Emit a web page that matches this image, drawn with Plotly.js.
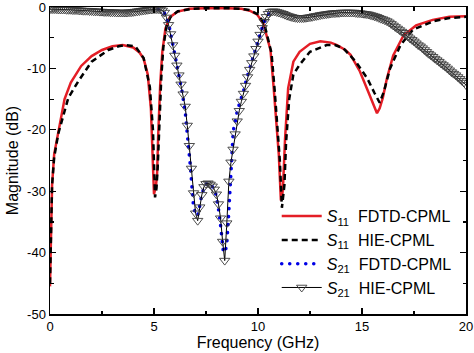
<!DOCTYPE html>
<html>
<head>
<meta charset="utf-8">
<script src="https://cdn.plot.ly/plotly-3.0.1.min.js"></script>
<style>
html,body{margin:0;padding:0;background:#fff;}
path.js-line[style*="rgb(0, 0, 230)"]{stroke-linecap:round !important;}
</style>
</head>
<body>
<div id="chart" style="width:474px;height:353px;"></div>
<script>
// ---- data ----
const xTicks = [0, 5, 10, 15, 20];
const xTickText = ['0', '5', '10', '15', '20'];
const yTicks = [0, -10, -20, -30, -40, -50];
const yTickText = ['0', '-10', '-20', '-30', '-40', '-50'];

const seriesNames = [
  '<i>S</i><sub>11</sub>\u00a0\u00a0FDTD-CPML',
  '<i>S</i><sub>11</sub>\u00a0\u00a0HIE-CPML',
  '<i>S</i><sub>21</sub>\u00a0\u00a0FDTD-CPML',
  '<i>S</i><sub>21</sub>\u00a0\u00a0HIE-CPML'
];

// S11 FDTD-CPML
const s11FdtdFreq = [0,0.05,0.1,0.2,0.4,0.7,1.0,1.5,2.0,2.5,3.0,3.5,4.0,4.3,4.5,4.7,4.85,4.95,5.0,5.1,5.15,5.2,5.3,5.4,5.55,5.75,6.1,6.7,7.5,8.5,9.2,9.6,9.95,10.25,10.45,10.6,10.75,10.9,11.0,11.1,11.15,11.2,11.3,11.45,11.7,12.0,12.5,13.0,13.5,13.8,14.2,14.45,14.9,15.3,15.6,15.72,15.85,16.0,16.2,16.5,17.0,17.6,18.4,19.2,20.0];
const s11FdtdDb = [-45.5,-36,-29,-24,-20.2,-15,-12.3,-9.6,-8.0,-7.0,-6.4,-6.2,-6.6,-7.4,-8.4,-11,-16.5,-25,-30.5,-29,-27,-21,-12.5,-7.3,-3.5,-1.7,-0.8,-0.3,-0.2,-0.2,-0.3,-0.6,-1.2,-2.6,-5.1,-7,-13,-19,-24,-31.5,-31,-29.5,-21.5,-13.2,-8.9,-7.3,-6.0,-5.6,-5.8,-6.2,-7.0,-7.8,-10.5,-13.8,-16.5,-17.3,-16.5,-14.8,-11.6,-7.9,-4.6,-3.0,-2.1,-1.6,-1.5];

// S11 HIE-CPML
const s11HieFreq = [0,0.05,0.1,0.2,0.4,0.88,1.36,2.0,2.8,3.3,3.6,4.1,4.5,4.8,4.95,5.05,5.12,5.18,5.25,5.35,5.45,5.6,5.8,6.15,6.8,7.5,8.5,9.2,9.6,10.0,10.3,10.5,10.65,10.8,10.95,11.05,11.15,11.2,11.27,11.35,11.5,11.7,12.0,12.5,13.3,13.7,14.1,14.7,15.25,15.6,15.85,16.05,16.35,16.85,17.45,18.45,19.2,20.0];
const s11HieDb = [-45,-36,-29,-24.5,-20.6,-14.8,-12.1,-8.9,-7.0,-6.4,-6.2,-6.4,-8.3,-13,-20,-31,-29.5,-26,-19,-11.5,-6.5,-3.2,-1.6,-0.7,-0.3,-0.2,-0.2,-0.3,-0.5,-1.2,-2.7,-5.2,-7.5,-13.5,-20,-25,-32.7,-31,-29,-22,-15,-11,-9.4,-7.3,-6.2,-6.2,-6.7,-8.9,-11.6,-14,-15.6,-13.8,-10,-6.2,-3.7,-2.3,-1.8,-1.6];

// S21 FDTD-CPML (visible part of the dotted curve)
const s21FdtdFreq = [5.2,5.35,5.45,5.55,5.65,5.75,5.87,6.0,6.11,6.2,6.35,6.5,6.59,6.65,6.74,6.82,6.89,6.98,7.1,7.22,7.3,7.46,7.7,7.94,8.08,8.18,8.26,8.33,8.42,8.5,8.58,8.66,8.74,8.81,8.9,9.0,9.14,9.3,9.46,9.62,9.8,10.0,10.2,10.4,10.6,10.8];
const s21FdtdDb = [-0.35,-0.45,-0.7,-1.3,-2.3,-3.5,-5.5,-7.8,-9.4,-10.9,-13.8,-17,-19.7,-22.4,-25.6,-28.9,-32.1,-33.7,-34.0,-32,-30.5,-28.9,-28.7,-30,-32.4,-34.9,-37.6,-39.7,-40,-38.5,-34.3,-28.9,-23.8,-20.2,-18.8,-17,-15.4,-13.8,-11.6,-9.8,-8.0,-5.6,-3.4,-1.6,-0.8,-0.7];

// S21 HIE-CPML, sampled every 0.1 GHz from 0 to 20 GHz
const s21HieStart = 0;
const s21HieStep = 0.1;
const s21HieDb = [
  -0.35,-0.35,-0.35,-0.35,-0.4,-0.4,-0.4,-0.4,-0.45,-0.45,
  -0.45,-0.5,-0.5,-0.5,-0.55,-0.55,-0.6,-0.6,-0.6,-0.65,
  -0.65,-0.7,-0.7,-0.7,-0.75,-0.75,-0.8,-0.8,-0.8,-0.85,
  -0.85,-0.85,-0.9,-0.9,-0.9,-0.9,-0.9,-0.9,-0.85,-0.85,
  -0.8,-0.75,-0.7,-0.65,-0.6,-0.55,-0.5,-0.45,-0.4,-0.4,
  -0.35,-0.35,-0.35,-0.4,-0.55,-0.9,-1.7,-2.9,-4.4,-6.2,
  -7.9,-9.5,-11.1,-12.6,-14.2,-16.2,-19.3,-22.6,-26.3,-30.3,
  -33.6,-34.8,-32.6,-30.6,-29.3,-28.8,-28.7,-28.9,-29.2,-29.7,
  -30.5,-32.1,-34.4,-38.2,-41.3,-35.2,-28.4,-25.3,-23.2,-20.7,
  -18.6,-16.9,-15.4,-14.1,-12.8,-11.4,-10.2,-9.1,-8.0,-6.8,
  -5.6,-4.5,-3.4,-2.4,-1.6,-1.1,-0.8,-0.7,-0.7,-0.8,
  -0.9,-1.0,-1.1,-1.25,-1.4,-1.5,-1.6,-1.7,-1.75,-1.8,
  -1.8,-1.8,-1.8,-1.75,-1.7,-1.65,-1.6,-1.5,-1.45,-1.4,
  -1.3,-1.25,-1.2,-1.15,-1.1,-1.05,-1.0,-1.0,-0.95,-0.95,
  -0.9,-0.9,-0.9,-0.9,-0.9,-0.9,-0.9,-0.95,-1.0,-1.0,
  -1.05,-1.1,-1.15,-1.2,-1.3,-1.4,-1.5,-1.6,-1.75,-1.9,
  -2.0,-2.15,-2.3,-2.5,-2.75,-3.0,-3.25,-3.5,-3.75,-4.0,
  -4.2,-4.5,-4.8,-5.1,-5.35,-5.6,-5.9,-6.2,-6.4,-6.7,
  -7.0,-7.3,-7.6,-7.85,-8.1,-8.4,-8.65,-8.9,-9.2,-9.45,
  -9.7,-10.0,-10.3,-10.6,-10.85,-11.1,-11.4,-11.7,-12.0,-12.3,
  -12.7
];

// ---- traces ----
const traces = [
  {
    x: s11FdtdFreq, y: s11FdtdDb, name: seriesNames[0], legendrank: 1,
    type: 'scatter', mode: 'lines',
    line: {color: '#e41e26', width: 2.5}
  },
  {
    x: s11HieFreq, y: s11HieDb, name: seriesNames[1], legendrank: 2,
    type: 'scatter', mode: 'lines',
    line: {color: '#000000', width: 2.5, dash: '6px,4px'}
  },
  {
    x: s21FdtdFreq, y: s21FdtdDb, name: seriesNames[2], legendrank: 3, uid: 'blue',
    type: 'scatter', mode: 'lines',
    line: {color: 'rgb(0, 0, 230)', width: 3.6, dash: '0.01px,8px'}
  },
  {
    x0: s21HieStart, dx: s21HieStep, y: s21HieDb, name: seriesNames[3], legendrank: 4,
    type: 'scatter', mode: 'lines+markers',
    line: {color: '#000000', width: 1},
    marker: {symbol: 'triangle-down-open', size: 9, color: '#3a3a3a', line: {width: 0.9, color: '#3a3a3a'}}
  }
];

const axisCommon = {
  showline: true, linecolor: '#000', linewidth: 1.5, mirror: 'ticks',
  ticks: 'inside', ticklen: 6, tickwidth: 1.3, tickcolor: '#000',
  showgrid: false, zeroline: false, ticklabeloverflow: 'allow',
  tickfont: {family: 'Liberation Sans, Arial, sans-serif', size: 13, color: '#000'}
};

const layout = {
  width: 474, height: 353,
  margin: {l: 50, r: 8, t: 7, b: 39},
  paper_bgcolor: '#fff', plot_bgcolor: '#fff',
  font: {family: 'Liberation Sans, Arial, sans-serif', size: 13, color: '#000'},
  showlegend: true,
  xaxis: Object.assign({}, axisCommon, {
    range: [0, 20], tickmode: 'array', tickvals: xTicks, ticktext: xTickText,
    minor: {dtick: 2.5, ticks: 'inside', ticklen: 3.5, tickwidth: 1.2, tickcolor: '#000'},
    title: {text: 'Frequency (GHz)', font: {size: 16, color: '#000'}, standoff: 3}
  }),
  yaxis: Object.assign({}, axisCommon, {
    range: [-50, 0], tickmode: 'array', tickvals: yTicks, ticktext: yTickText,
    minor: {dtick: 5, ticks: 'inside', ticklen: 3.5, tickwidth: 1.2, tickcolor: '#000'},
    title: {text: 'Magnitude (dB)', font: {size: 16, color: '#000'}, standoff: 4}
  }),
  legend: {
    x: 0.545, y: 0.374, xanchor: 'left', yanchor: 'top',
    bgcolor: 'rgba(0,0,0,0)', borderwidth: 0,
    font: {family: 'Liberation Sans, Arial, sans-serif', size: 16, color: '#000'},
    itemwidth: 40, tracegroupgap: 0
  }
};

Plotly.newPlot('chart', traces, layout, {displayModeBar: false, staticPlot: true}).then(function () {
  document.querySelectorAll('path.js-line').forEach(function (p) {
    if ((p.getAttribute('style') || '').indexOf('rgb(0, 0, 230)') >= 0) {
      p.style.strokeLinecap = 'round';
    }
  });
});
</script>
</body>
</html>
